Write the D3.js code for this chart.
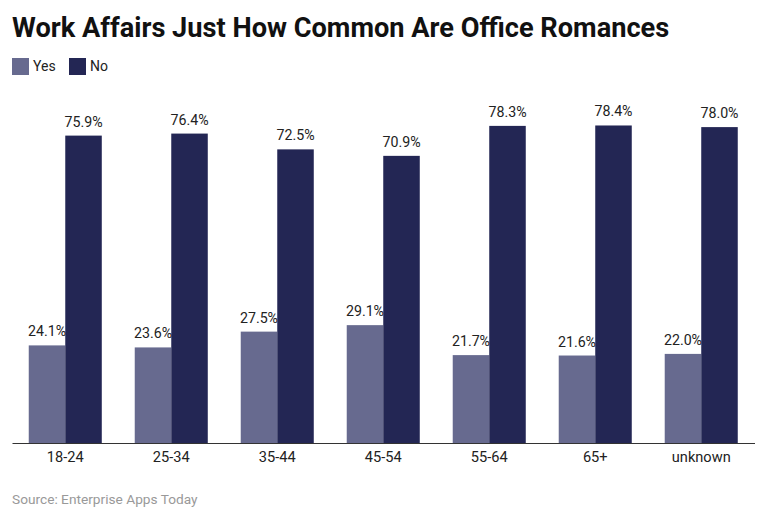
<!DOCTYPE html>
<html><head><meta charset="utf-8">
<script src="https://cdn.jsdelivr.net/npm/d3@7"></script>
<style>body{margin:0;background:#fff;font-family:Roboto,sans-serif}</style>
</head><body><svg id="c" width="768" height="520"></svg>
<script>
const categories = ["18-24","25-34","35-44","45-54","55-64","65+","unknown"];
const yesValues = [24.1,23.6,27.5,29.1,21.7,21.6,22.0];
const noValues = [75.9,76.4,72.5,70.9,78.3,78.4,78.0];
const seriesNames = ["Yes","No"];
const colors = ["#676a8f","#232654"];

const svg = d3.select("#c");
svg.append("text").attr("x",12).attr("y",37).text("Work Affairs Just How Common Are Office Romances")
  .attr("font-size",27.2).attr("font-weight","bold").attr("fill","#111").attr("font-family","Roboto");

const legX = [12,69];
seriesNames.forEach((s,i)=>{
  svg.append("rect").attr("x",legX[i]).attr("y",58).attr("width",17).attr("height",17).attr("fill",colors[i]);
  svg.append("text").attr("x",legX[i]+21).attr("y",71).text(s).attr("font-size",14).attr("fill","#222");
});

const x0 = d3.scaleBand().domain(categories).range([12,754.5]).paddingInner(0.311).paddingOuter(0.158);
const x1 = d3.scaleBand().domain(seriesNames).range([0,x0.bandwidth()]);
const y = d3.scaleLinear().domain([0,100]).range([443,38]);

const data = categories.map((c,i)=>({c, vals:[yesValues[i],noValues[i]]}));
const g = svg.append("g");
data.forEach(d=>{
  d.vals.forEach((v,j)=>{
    const bx = x0(d.c)+x1(seriesNames[j]);
    g.append("rect").attr("x",bx).attr("y",y(v)).attr("width",x1.bandwidth()).attr("height",y(0)-y(v)).attr("fill",colors[j]);
    g.append("text").attr("x",bx+x1.bandwidth()/2).attr("y",y(v)-9).attr("text-anchor","middle")
      .attr("font-size",14.2).attr("fill","#222").text(v.toFixed(1)+"%");
  });
});

const ax = svg.append("g").attr("transform","translate(0,443)").call(d3.axisBottom(x0).tickSize(0).tickPadding(9));
ax.select(".domain").attr("stroke","#333").attr("stroke-width",1.2);
ax.selectAll("text").attr("font-size",14.6).attr("fill","#222").attr("font-family","Roboto");

svg.append("text").attr("x",12).attr("y",504).text("Source: Enterprise Apps Today").attr("font-size",13.7).attr("fill","#999");
</script></body></html>
